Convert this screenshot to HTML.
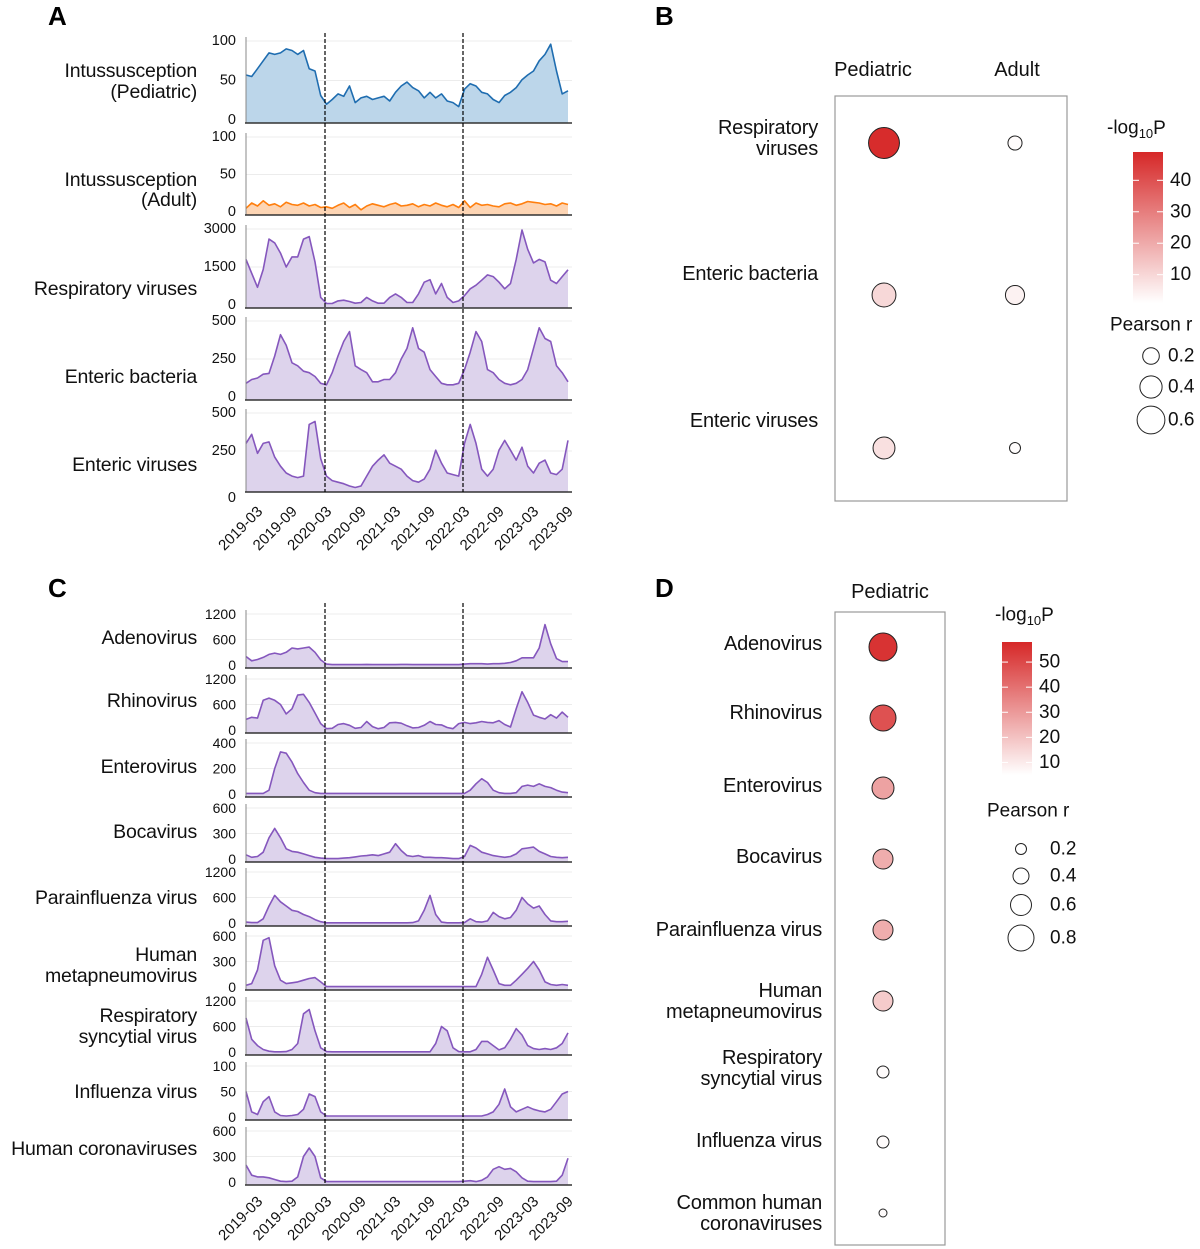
<!DOCTYPE html>
<html><head><meta charset="utf-8">
<style>
html,body{margin:0;padding:0;background:#fff;}
svg{display:block;font-family:"Liberation Sans",sans-serif;}
</style></head>
<body>
<svg id="fig" width="1200" height="1249" viewBox="0 0 1200 1249" xmlns="http://www.w3.org/2000/svg">
<g id="layer"></g>
</svg>
<script>
// ---------- data (monthly values, 2019-01 .. 2023-09) ----------
const tickLabels = ["2019-03","2019-09","2020-03","2020-09","2021-03","2021-09","2022-03","2022-09","2023-03","2023-09"];
const dashedTicks = ["2020-03","2022-03"];

const pedIntus = [57,55,65,75,85,83,85,90,88,83,88,65,62,31,20,26,33,30,43,22,28,30,26,28,30,24,35,43,48,41,37,28,35,28,33,24,22,17,39,46,43,35,33,26,22,31,35,41,51,57,62,75,83,96,62,33,37];
const adultIntus = [5,12,8,15,9,11,7,13,10,9,12,8,10,6,7,5,9,12,6,10,3,8,11,9,7,10,12,8,9,11,7,10,8,12,9,7,10,6,15,6,12,9,10,8,7,11,12,9,11,14,13,12,10,11,8,12,10];
const respViruses = [1800,1250,700,1400,2600,2450,2050,1500,1900,1900,2600,2700,1700,300,60,60,160,190,140,70,100,300,160,70,70,300,440,300,100,100,440,900,1000,440,850,300,100,160,370,640,780,980,1190,1120,900,640,850,1800,2960,2200,1660,1800,1700,980,850,1120,1390];
const entBacteria = [90,115,125,150,155,270,410,340,225,205,170,160,135,90,80,160,270,365,430,205,180,160,100,100,115,115,160,250,320,455,320,295,180,135,90,80,80,90,180,295,430,365,180,160,115,90,80,90,115,180,320,455,385,365,205,160,100];
const entViruses = [300,360,235,300,310,210,150,105,85,75,85,425,445,200,85,55,45,35,20,10,20,85,150,190,225,170,150,130,85,55,45,65,130,255,170,105,95,85,300,425,300,130,85,130,255,320,255,190,275,150,105,170,190,105,95,130,320];

const adeno = [200,100,130,180,250,280,250,300,400,380,400,420,300,120,20,10,10,10,10,10,10,15,10,10,10,10,10,15,15,10,10,10,10,10,10,10,10,10,20,30,30,30,20,30,30,40,60,100,170,170,170,400,950,500,150,80,80];
const rhino = [250,300,280,700,750,700,600,380,500,820,840,650,400,150,30,40,130,150,110,40,60,200,80,30,60,170,180,160,100,50,60,110,200,130,120,60,30,150,180,150,170,200,180,170,220,130,70,500,900,650,350,300,260,360,280,420,300];
const entero = [5,5,5,5,30,200,330,320,250,160,90,30,10,5,5,5,5,5,5,5,5,5,5,5,5,5,5,5,5,5,5,5,5,5,5,5,5,5,5,30,80,120,90,30,10,5,5,10,60,70,60,80,60,50,30,15,10];
const boca = [50,20,30,80,250,360,250,120,90,80,60,40,20,10,5,5,5,10,15,25,35,40,50,40,60,80,180,100,40,30,40,20,20,15,15,10,5,5,30,160,130,80,60,40,30,20,30,60,120,130,140,90,60,30,20,15,20];
const para = [20,10,10,100,400,650,500,400,300,270,200,150,80,30,5,5,5,5,5,5,5,5,5,5,5,5,5,5,5,10,50,300,650,200,20,5,5,5,10,100,30,20,50,250,150,100,130,300,600,450,350,400,200,50,30,30,40];
const hmpv = [20,40,200,550,580,250,80,40,50,60,80,100,110,60,5,5,5,5,5,5,5,5,5,5,5,5,5,5,5,5,5,5,5,5,5,5,5,5,5,5,5,150,350,200,40,20,20,80,150,220,300,200,60,30,20,30,20];
const rsv = [800,300,150,60,20,5,5,10,60,200,900,1000,500,100,10,5,5,5,5,5,5,5,5,5,5,5,5,5,5,5,5,5,5,200,600,500,100,10,5,5,60,250,250,150,50,100,300,550,400,150,80,60,80,60,100,200,450];
const flu = [50,10,5,30,40,10,3,2,3,5,15,45,40,10,2,2,2,2,2,2,2,2,2,2,2,2,2,2,2,2,2,2,2,2,2,2,2,2,2,2,2,2,5,10,25,55,20,10,15,20,15,12,10,15,30,45,50];
const cov = [200,80,60,60,50,30,10,5,10,60,300,400,300,50,5,5,5,5,5,5,5,5,5,5,5,5,5,5,5,5,5,5,5,5,5,5,5,5,10,15,5,20,60,150,180,150,160,120,50,10,5,5,5,5,10,80,280];

// Panel B
const bCategories = ["Respiratory viruses","Enteric bacteria","Enteric viruses"];
const bPedR = [0.71,0.46,0.39];
const bPedP = [48,9,7];
const bAdR = [0.11,0.29,0.0];
const bAdP = [1,3,0.5];
const bSizeTicks = [0.2,0.4,0.6];
const bColorTicks = [10,20,30,40];

// Panel D
const dCategories = ["Adenovirus","Rhinovirus","Enterovirus","Bocavirus","Parainfluenza virus","Human metapneumovirus","Respiratory syncytial virus","Influenza virus","Common human coronaviruses"];
const dPedR = [0.88,0.8,0.64,0.56,0.56,0.56,0.24,0.24,0.08];
const dPedP = [55,47,25,22,22,14,1,1,1];
const dSizeTicks = [0.2,0.4,0.6,0.8];
const dColorTicks = [10,20,30,40,50];

// ---------- helpers ----------
const NS = "http://www.w3.org/2000/svg";
const root = document.getElementById("layer");
function mk(tag, attrs, parent){
  const e = document.createElementNS(NS, tag);
  for (const k in attrs) e.setAttribute(k, attrs[k]);
  (parent||root).appendChild(e);
  return e;
}
function txt(s, x, y, size, anchor, parent, extra){
  const t = mk("text", Object.assign({x:x, y:y, "font-size":size, "text-anchor":anchor||"start", "dominant-baseline":"central", fill:"#111"}, extra||{}), parent);
  t.textContent = s;
  return t;
}
function xm(m){ return 256 + (m-2)*5.75; }
function tickMonth(lbl){ const [y,mo]=lbl.split("-").map(Number); return (y-2019)*12 + (mo-1); }

function drawSeries(g, data, zeroY, topY, axisY, maxV, lineCol, fillCol){
  const n = data.length;
  const pts = data.map((v,i)=>{
    const m = 0.26 + i*(56.0/(n-1));
    return [xm(m), zeroY - (v/maxV)*(zeroY-topY)];
  });
  let d = "M"+pts.map(p=>p[0].toFixed(1)+","+p[1].toFixed(1)).join(" L");
  const area = mk("path", {d: d+" L"+pts[n-1][0].toFixed(1)+","+axisY+" L"+pts[0][0].toFixed(1)+","+axisY+" Z", fill:fillCol, stroke:"none"}, g);
  
  
  const line = mk("path", {d:d, fill:"none", stroke:lineCol, "stroke-width":1.6, "stroke-linejoin":"round"}, g);
  
  
}

function drawRow(row, name){
  const g = mk("g", {});
  
  
  const zeroY = row.axis - 3;
  const topY = row.top;
  [topY, (zeroY+topY)/2].forEach(y=>{
    const gl = mk("line", {x1:246, x2:572, y1:y, y2:y, stroke:"#ececec", "stroke-width":1}, g);
    
    
  });
  drawSeries(g, row.data, zeroY, topY, row.axis, row.max, row.line, row.fill);
  const ya = mk("line", {x1:246, x2:246, y1:topY-4, y2:row.axis, stroke:"#888", "stroke-width":1}, g);
  
  
  const xa = mk("line", {x1:245, x2:572, y1:row.axis, y2:row.axis, stroke:"#333", "stroke-width":1.4}, g);
  
  
  const tv = [row.max, row.max/2, 0];
  const ty = [topY, (zeroY+topY)/2, zeroY + (row.zeroOff||0)];
  tv.forEach((v,i)=>{
    const t = txt(String(v), 236, ty[i], row.fs||14.5, "end", g);
    
    
  });
  row.label.forEach((s,i)=>{
    const t = txt(s, 197, row.labelY[i], 19.5, "end", g, {"letter-spacing":"-0.2"});
    
    
  });
}

function drawTimeAxis(yLbl, yTop, yBot, name){
  const g = mk("g", {});
  
  
  dashedTicks.forEach(l=>{
    const x = xm(tickMonth(l));
    const dl = mk("line", {x1:x, x2:x, y1:yTop, y2:yBot, stroke:"#000", "stroke-width":1.2, "stroke-dasharray":"4,2"}, g);
    
    
  });
  tickLabels.forEach(l=>{
    const x = xm(tickMonth(l));
    const t = mk("text", {x:x, y:yLbl, "font-size":15, "text-anchor":"end", "dominant-baseline":"hanging", fill:"#111", transform:"rotate(-45 "+x+" "+yLbl+")"}, g);
    t.textContent = l;
    
    
  });
}

// ---------- Panel A ----------
const purpleLine = "#8557bd", purpleFill = "#ddd3ec";
const aRows = [
  {data:pedIntus, max:100, axis:123, top:41, line:"#1f6db0", fill:"#bcd6ea", label:["Intussusception","(Pediatric)"], labelY:[71,92]},
  {data:adultIntus, max:100, axis:215, top:137, line:"#ff7f0e", fill:"#fdd5b4", label:["Intussusception","(Adult)"], labelY:[180,200]},
  {data:respViruses, max:3000, axis:308, top:229, line:purpleLine, fill:purpleFill, label:["Respiratory viruses"], labelY:[289]},
  {data:entBacteria, max:500, axis:400, top:321, line:purpleLine, fill:purpleFill, label:["Enteric bacteria"], labelY:[377]},
  {data:entViruses, max:500, axis:492, top:413, line:purpleLine, fill:purpleFill, label:["Enteric viruses"], labelY:[465], zeroOff:9}
];
const names = ["row-intussusception-pediatric","row-intussusception-adult","row-respiratory-viruses","row-enteric-bacteria","row-enteric-viruses"];
aRows.forEach((r,i)=>drawRow(r, names[i]));
drawTimeAxis(505, 33, 492, "panel-a-time-axis");

// ---------- Panel C ----------
const cAxes = [668,733,797,862,926,990,1055,1120,1185];
const cRows = [
  {data:adeno, max:1200, label:["Adenovirus"], labelY:[638]},
  {data:rhino, max:1200, label:["Rhinovirus"], labelY:[701]},
  {data:entero, max:400, label:["Enterovirus"], labelY:[767]},
  {data:boca, max:600, label:["Bocavirus"], labelY:[832]},
  {data:para, max:1200, label:["Parainfluenza virus"], labelY:[898]},
  {data:hmpv, max:600, label:["Human","metapneumovirus"], labelY:[955,976]},
  {data:rsv, max:1200, label:["Respiratory","syncytial virus"], labelY:[1016,1037]},
  {data:flu, max:100, label:["Influenza virus"], labelY:[1092]},
  {data:cov, max:600, label:["Human coronaviruses"], labelY:[1149]}
];
cRows.forEach((r,i)=>{
  r.axis = cAxes[i]; r.top = cAxes[i]-54; r.line = purpleLine; r.fill = purpleFill; r.fs = 14;
  drawRow(r, "row-c-"+r.label.join("-").toLowerCase().replace(/ /g,"-"));
});
drawTimeAxis(1195, 603, 1185, "panel-c-time-axis");

// ---------- bubble panels ----------
function colorFor(p, pmax){
  const t = Math.max(0, Math.min(1, p/pmax));
  const r = Math.round(255 + (214-255)*t), g = Math.round(255 + (40-255)*t), b = Math.round(255 + (40-255)*t);
  return "rgb("+r+","+g+","+b+")";
}
function colorbar(g, id, x, yTop, yBot, vTop, vBot, ticks){
  const defs = mk("defs", {}, g);
  const lg = mk("linearGradient", {id:id, x1:0, y1:0, x2:0, y2:1}, defs);
  mk("stop", {offset:"0", "stop-color":"#d62828"}, lg);
  mk("stop", {offset:"1", "stop-color":"#ffffff"}, lg);
  const rect = mk("rect", {x:x, y:yTop, width:30, height:yBot-yTop, fill:"url(#"+id+")"}, g);
  
  
  ticks.forEach(v=>{
    const y = yTop + (vTop - v)/(vTop - vBot)*(yBot-yTop);
    mk("line", {x1:x, x2:x+6, y1:y, y2:y, stroke:"#fff", "stroke-width":1}, g);
    mk("line", {x1:x+24, x2:x+30, y1:y, y2:y, stroke:"#fff", "stroke-width":1}, g);
    const t = txt(String(v), x+37, y, 19, "start", g);
    
    
  });
}
function logTitle(g, x, y){
  const t = mk("text", {x:x, y:y, "font-size":19, fill:"#111", "dominant-baseline":"central"}, g);
  t.innerHTML = '-log<tspan font-size="13" dy="5">10</tspan><tspan dy="-5">P</tspan>';
  
  
}

// Panel B
(function(){
  const g = mk("g", {});
  
  
  const rScale = v => 5.5 + 14*v;
  const box = mk("rect", {x:835, y:96, width:232, height:405, fill:"none", stroke:"#999", "stroke-width":1.2}, g);
  
  
  let t = txt("Pediatric", 873, 70, 20, "middle", g);  
  t = txt("Adult", 1017, 70, 20, "middle", g);  
  const rowY = [143, 295, 448];
  const lblLines = [["Respiratory","viruses"],["Enteric bacteria"],["Enteric viruses"]];
  const lblY = [[128,149],[274],[421]];
  bCategories.forEach((c,i)=>{
    lblLines[i].forEach((s,j)=>{
      const tl = txt(s, 818, lblY[i][j], 20, "end", g, {"letter-spacing":"-0.2"});
      
      
    });
    const c1 = mk("circle", {cx:884, cy:rowY[i], r:rScale(bPedR[i]), fill:colorFor(bPedP[i],49), stroke:"#222", "stroke-width":1}, g);
    
    
    const c2 = mk("circle", {cx:1015, cy:rowY[i], r:rScale(bAdR[i]), fill:colorFor(bAdP[i],49), stroke:"#222", "stroke-width":1}, g);
    
    
  });
  logTitle(g, 1107, 128);
  colorbar(g, "gradB", 1133, 152, 303, 49, 1, bColorTicks);
  t = txt("Pearson r", 1110, 325, 19, "start", g);  
  const ly = [356, 387, 420];
  bSizeTicks.forEach((v,i)=>{
    const c = mk("circle", {cx:1151, cy:ly[i], r:rScale(v), fill:"#fff", stroke:"#222", "stroke-width":1}, g);
    
    
    const tl = txt(v.toFixed(1), 1168, ly[i], 19, "start", g);
    
    
  });
})();

// Panel D
(function(){
  const g = mk("g", {});
  
  
  const rScale = v => 3 + 12.5*v;
  const box = mk("rect", {x:835, y:612, width:110, height:633, fill:"none", stroke:"#999", "stroke-width":1.2}, g);
  
  
  let t = txt("Pediatric", 890, 592, 20, "middle", g);  
  const rowY = [647,718,788,859,930,1001,1072,1142,1213];
  const lblLines = [["Adenovirus"],["Rhinovirus"],["Enterovirus"],["Bocavirus"],["Parainfluenza virus"],["Human","metapneumovirus"],["Respiratory","syncytial virus"],["Influenza virus"],["Common human","coronaviruses"]];
  const lblY = [[644],[713],[786],[857],[930],[991,1012],[1058,1079],[1141],[1203,1224]];
  dCategories.forEach((c,i)=>{
    lblLines[i].forEach((s,j)=>{
      const tl = txt(s, 822, lblY[i][j], 20, "end", g, {"letter-spacing":"-0.2"});
      
      
    });
    const cc = mk("circle", {cx:883, cy:rowY[i], r:rScale(dPedR[i]), fill:colorFor(dPedP[i],58), stroke:"#222", "stroke-width":1}, g);
    
    
  });
  logTitle(g, 995, 615);
  colorbar(g, "gradD", 1002, 642, 775, 58, 5, dColorTicks);
  t = txt("Pearson r", 987, 811, 19, "start", g);  
  const ly = [849, 876, 905, 938];
  dSizeTicks.forEach((v,i)=>{
    const c = mk("circle", {cx:1021, cy:ly[i], r:rScale(v), fill:"#fff", stroke:"#222", "stroke-width":1}, g);
    
    
    const tl = txt(v.toFixed(1), 1050, ly[i], 19, "start", g);
    
    
  });
})();

// panel letters
[["A",48,16],["B",655,16],["C",48,588],["D",655,588]].forEach(p=>{
  const t = txt(p[0], p[1], p[2], 26, "start", root, {"font-weight":"bold", fill:"#000"});
  
  
});
</script>
</body></html>
